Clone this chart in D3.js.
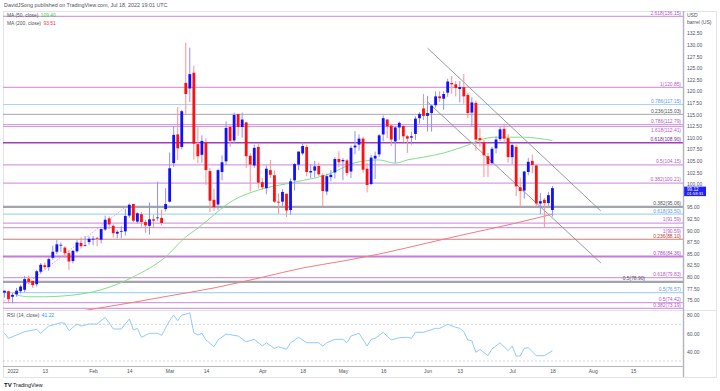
<!DOCTYPE html>
<html>
<head>
<meta charset="utf-8">
<script src="https://cdn.jsdelivr.net/npm/d3@7"></script>
<style>
body { margin: 0; background: #ffffff; }
text { font-family: "Liberation Sans", "DejaVu Sans", sans-serif; }
</style>
</head>
<body>
<script>
//WTI daily candles, Dec 30 2021 - Jul 18 2022 (trading days only)
var dates = ["2021-12-30","2021-12-31",
 "2022-01-03","2022-01-04","2022-01-05","2022-01-06","2022-01-07","2022-01-10","2022-01-11","2022-01-12","2022-01-13","2022-01-14",
 "2022-01-18","2022-01-19","2022-01-20","2022-01-21","2022-01-24","2022-01-25","2022-01-26","2022-01-27","2022-01-28","2022-01-31",
 "2022-02-01","2022-02-02","2022-02-03","2022-02-04","2022-02-07","2022-02-08","2022-02-09","2022-02-10","2022-02-11","2022-02-14",
 "2022-02-15","2022-02-16","2022-02-17","2022-02-18","2022-02-22","2022-02-23","2022-02-24","2022-02-25","2022-02-28",
 "2022-03-01","2022-03-02","2022-03-03","2022-03-04","2022-03-07","2022-03-08","2022-03-09","2022-03-10","2022-03-11","2022-03-14",
 "2022-03-15","2022-03-16","2022-03-17","2022-03-18","2022-03-21","2022-03-22","2022-03-23","2022-03-24","2022-03-25","2022-03-28",
 "2022-03-29","2022-03-30","2022-03-31",
 "2022-04-01","2022-04-04","2022-04-05","2022-04-06","2022-04-07","2022-04-08","2022-04-11","2022-04-12","2022-04-13","2022-04-14",
 "2022-04-18","2022-04-19","2022-04-20","2022-04-21","2022-04-22","2022-04-25","2022-04-26","2022-04-27","2022-04-28","2022-04-29",
 "2022-05-02","2022-05-03","2022-05-04","2022-05-05","2022-05-06","2022-05-09","2022-05-10","2022-05-11","2022-05-12","2022-05-13",
 "2022-05-16","2022-05-17","2022-05-18","2022-05-19","2022-05-20","2022-05-23","2022-05-24","2022-05-25","2022-05-26","2022-05-27",
 "2022-05-31",
 "2022-06-01","2022-06-02","2022-06-03","2022-06-06","2022-06-07","2022-06-08","2022-06-09","2022-06-10","2022-06-13","2022-06-14",
 "2022-06-15","2022-06-16","2022-06-17","2022-06-21","2022-06-22","2022-06-23","2022-06-24","2022-06-27","2022-06-28","2022-06-29",
 "2022-06-30",
 "2022-07-01","2022-07-05","2022-07-06","2022-07-07","2022-07-08","2022-07-11","2022-07-12","2022-07-13","2022-07-14","2022-07-15",
 "2022-07-18"];

var opens = [76.6,76.9,
 75.7,76.2,76.9,77.2,79.6,79.1,78.4,81.1,82.5,82.1,
 84.1,85.4,86.8,86.3,85.1,83.4,85.5,87.3,86.7,87.5,
 88.2,88.4,88.0,90.2,92.6,91.0,89.3,89.9,89.8,93.2,
 95.7,91.9,93.5,91.8,91.0,92.4,92.8,92.7,94.6,
 96.2,104.5,110.7,108.0,121.8,120.6,124.0,108.6,106.3,109.0,
 102.8,96.6,95.6,102.6,104.9,112.3,109.4,115.1,112.3,113.3,
 106.1,104.0,108.0,
 100.4,99.1,103.0,101.9,96.2,96.2,97.9,94.4,100.8,104.2,
 106.6,108.0,102.5,102.9,103.9,101.9,98.4,101.5,102.5,105.4,
 104.9,105.1,102.7,107.9,108.5,109.8,103.3,100.0,105.5,106.4,
 110.7,113.9,112.6,109.2,112.2,112.5,110.3,110.0,110.8,114.2,
 116.3,
 114.7,115.3,117.0,118.9,118.4,119.7,121.8,121.5,120.5,120.9,
 119.2,115.4,117.5,109.9,109.0,106.0,104.5,107.7,109.7,111.9,
 109.9,
 105.8,108.0,99.3,98.6,102.6,105.0,104.0,95.8,96.6,95.9,
 94.4];
var highs = [77.0,77.0,
 76.5,77.6,78.2,80.2,80.3,79.2,81.5,83.0,83.1,84.2,
 86.7,87.9,87.4,86.6,85.7,85.8,88.0,88.5,88.8,88.7,
 88.8,88.6,90.4,93.2,93.0,91.3,90.1,90.9,94.7,95.8,
 95.7,93.9,94.0,92.3,96.0,93.3,100.5,94.5,99.1,
 106.8,112.5,116.6,116.0,130.5,129.4,125.5,112.5,110.5,109.9,
 103.5,99.0,103.3,106.2,113.5,112.9,115.4,115.1,115.4,113.4,
 106.7,108.5,108.6,
 101.3,104.0,105.2,102.9,98.0,98.9,98.0,101.2,104.5,107.0,
 109.0,108.5,104.3,105.0,104.6,102.3,102.3,103.0,105.8,107.1,
 105.6,105.4,108.3,111.4,110.7,110.2,104.5,106.3,107.0,110.8,
 114.8,114.0,113.0,112.5,113.5,112.8,110.6,111.3,114.6,115.5,
 119.4,
 119.0,117.1,120.0,120.0,120.0,122.7,123.3,122.2,122.2,123.7,
 119.7,118.7,118.0,112.0,109.5,106.7,108.0,110.3,112.3,113.0,
 110.8,
 109.0,108.5,101.4,102.8,105.6,106.3,104.3,98.1,97.0,98.3,
 99.6];
var lows = [75.5,74.3,
 74.3,75.7,76.4,76.7,78.4,77.6,77.9,80.7,81.6,81.3,
 83.7,84.9,85.4,84.1,81.5,82.9,85.2,86.1,86.6,86.9,
 86.8,86.6,87.2,89.9,90.3,88.5,88.3,88.3,88.9,92.7,
 91.8,91.5,90.8,89.5,89.1,90.6,92.1,91.1,94.1,
 96.0,103.7,105.2,107.5,114.9,117.7,105.3,104.5,104.6,99.8,
 94.0,94.2,94.5,100.8,104.1,108.0,108.8,110.4,110.0,103.5,
 98.4,103.5,99.0,
 98.8,97.8,101.3,95.9,93.6,95.1,92.9,93.4,98.6,103.0,
 106.2,101.7,101.3,101.5,101.7,95.3,97.6,100.6,101.2,103.6,
 100.8,101.7,101.3,106.4,107.2,102.4,98.2,99.7,101.1,105.8,
 109.2,109.9,108.2,104.6,109.5,109.0,106.7,108.5,109.5,113.0,
 113.8,
 111.3,111.3,116.5,117.7,116.0,118.8,119.5,118.9,117.6,117.3,
 114.2,112.4,107.2,108.0,101.5,101.5,104.2,106.6,109.3,108.9,
 104.6,
 104.3,97.4,95.1,96.9,101.9,102.3,95.1,93.5,90.6,95.3,
 93.0];
var closes = [77.0,75.2,
 76.1,77.0,77.9,79.5,78.9,78.2,81.2,82.6,82.1,83.8,
 85.4,87.0,86.9,85.1,83.3,85.6,87.4,86.6,86.8,88.2,
 88.2,88.3,90.3,92.3,91.3,89.4,89.7,89.9,93.1,95.5,
 92.1,93.7,91.8,91.1,92.4,92.1,92.8,91.6,95.7,
 103.4,110.6,107.7,115.7,119.4,123.7,108.7,106.0,109.3,103.0,
 96.4,95.0,103.0,104.7,112.1,109.3,114.9,112.3,113.9,106.0,
 104.2,107.8,100.3,
 99.3,103.3,102.0,96.2,96.0,98.3,94.3,100.6,104.3,107.0,
 108.2,102.6,102.8,103.8,102.1,98.5,101.7,102.0,105.4,104.7,
 105.2,102.4,107.8,108.3,109.8,103.1,99.8,105.7,106.1,110.5,
 114.2,112.4,109.6,112.2,113.2,110.3,109.8,110.3,114.1,115.1,
 114.7,
 115.3,116.9,118.9,118.5,119.4,122.1,121.5,120.7,120.9,118.9,
 115.3,117.6,109.6,109.5,106.2,104.3,107.6,109.6,111.8,109.8,
 105.8,
 108.4,99.5,98.5,102.7,104.8,104.1,95.8,96.3,95.9,97.6,
 99.12];

//moving averages
var ma50Dates = ["2022-01-04","2022-01-07","2022-01-13","2022-01-21","2022-02-03","2022-02-15","2022-02-28","2022-03-07","2022-03-10",
 "2022-03-23","2022-03-31","2022-04-13","2022-04-26","2022-05-06","2022-05-13","2022-05-19","2022-05-24","2022-05-31","2022-06-07",
 "2022-06-13","2022-06-15","2022-06-21","2022-06-27","2022-07-07","2022-07-12","2022-07-18"];
var ma50Values = [76.1,75.7,75.7,75.9,77.2,80.0,84.3,88.6,90.5,96.6,98.7,100.4,102.0,104.8,105.2,104.5,105.2,105.8,106.7,107.8,108.4,
 109.5,110.1,110.1,109.9,109.40];
var ma200Dates = ["2021-12-30","2022-01-31","2022-02-15","2022-03-01","2022-03-16","2022-04-01","2022-04-18","2022-05-02","2022-05-16",
 "2022-06-01","2022-06-13","2022-07-01","2022-07-18"];
var ma200Values = [70.2,72.9,74.5,75.9,77.6,79.9,81.9,83.4,85.1,87.3,88.9,91.4,93.51];

//RSI (14)
var rsiDates = ["2021-12-30","2021-12-31","2022-01-04","2022-01-06","2022-01-11","2022-01-12","2022-01-14","2022-01-18","2022-01-20",
 "2022-01-21","2022-01-24","2022-01-26","2022-01-27","2022-01-31","2022-02-02","2022-02-04","2022-02-08","2022-02-10","2022-02-14",
 "2022-02-15","2022-02-16","2022-02-17","2022-02-22","2022-02-24","2022-02-25","2022-03-01","2022-03-02","2022-03-03","2022-03-04",
 "2022-03-07","2022-03-08","2022-03-09","2022-03-10","2022-03-11","2022-03-14","2022-03-16","2022-03-17","2022-03-21","2022-03-24",
 "2022-03-28","2022-03-30","2022-04-01","2022-04-04","2022-04-06","2022-04-07","2022-04-11","2022-04-12","2022-04-14","2022-04-19",
 "2022-04-22","2022-04-25","2022-04-26","2022-04-28","2022-05-02","2022-05-03","2022-05-04","2022-05-06","2022-05-10","2022-05-11",
 "2022-05-12","2022-05-16","2022-05-18","2022-05-20","2022-05-24","2022-05-25","2022-05-26","2022-05-31","2022-06-03","2022-06-06",
 "2022-06-08","2022-06-10","2022-06-13","2022-06-14","2022-06-15","2022-06-16","2022-06-17","2022-06-21","2022-06-23","2022-06-24",
 "2022-06-28","2022-06-30","2022-07-01","2022-07-05","2022-07-06","2022-07-07","2022-07-08","2022-07-12","2022-07-14","2022-07-18"];
var rsiValues = [60.2,54.7,58.3,61.9,64.5,60.2,68.1,69.2,71.7,71.1,63.0,70.3,68.1,70.3,70.3,77.6,64.9,64.9,75.8,63.8,65.6,55.8,60.2,
 60.2,58.0,74.0,80.1,73.9,80.1,81.0,82.6,60.8,58.3,60.2,53.0,45.6,52.9,59.4,57.2,51.0,53.6,46.3,49.9,43.8,45.6,42.7,49.9,55.8,49.9,
 49.9,46.3,49.9,53.6,53.6,49.9,57.2,60.2,46.3,53.6,54.7,61.3,52.9,55.4,55.8,54.7,61.3,61.3,65.6,65.6,70.0,66.7,65.6,61.9,52.9,52.1,
 39.5,42.7,35.8,43.1,49.9,41.2,46.3,35.4,35.4,43.8,44.5,35.8,35.8,41.22];

//fibonacci levels drawn on the chart
var fibPrices = [136.15,120.85,117.15,115.03,112.79,112.41,108.90,104.15,100.21,95.06,93.50,91.59,90.59,88.10,84.36,79.83,78.90,
 76.57,74.42,73.19];
var fibLabels = ["2.618(136.15)","1(120.85)","0.786(117.15)","0.236(115.03)","0.786(112.79)","1.618(112.41)","0.618(108.90)",
 "0.5(104.15)","0.382(100.21)","0.382(95.06)","0.618(93.50)","1(91.59)","1(90.59)","0.236(88.10)","0.786(84.36)","0.618(79.83)",
 "0.5(78.90)","0.5(76.57)","0.5(74.42)","0.382(73.19)"];
var fibKinds = ["p","p","b","g","p","p","dp","p","p","gt","b","p","p","r","pt","p","gt","b","p","p"];

//trend lines: [start date, start price, end date, end price]
var channelUpper = ["2022-06-01",129.3,"2022-08-03",94.2];
var channelLower = ["2022-06-01",117.7,"2022-08-03",83.0];
var trendDotted = ["2021-12-30",74.8,"2022-02-14",95.7];

//axis labels
var priceTicks = d3.range(75, 133, 2.5);
var rsiTicks = [40, 60, 80];
var dateTickDays = ["2022-01-03","2022-01-13","2022-02-01","2022-02-14","2022-03-01","2022-03-14","2022-04-01","2022-04-18",
 "2022-05-02","2022-05-16","2022-06-01","2022-06-13","2022-07-01","2022-07-18","2022-08-01","2022-08-15"];
var dateTickLabels = ["2022","13","Feb","14","Mar","14","Apr","18","May","16","Jun","13","Jul","18","Aug","15"];

//SVG dimension variables
var w = 720, h = 391;
var left = 3, right = 683, mainTop = 11, mainBottom = 310, rsiBottom = 366;

//trading-day index of a date; dates after the data are counted on weekdays
var dayIndex = {};
dates.forEach(function(d, i) { dayIndex[d] = i; });
function idx(ds) {
    if (dayIndex[ds] !== undefined) return dayIndex[ds];
    var last = new Date(dates[dates.length - 1] + "T00:00:00Z"), target = new Date(ds + "T00:00:00Z");
    var n = dates.length - 1;
    while (last < target) {
        last.setUTCDate(last.getUTCDate() + 1);
        var wd = last.getUTCDay();
        if (wd !== 0 && wd !== 6) n++;
    }
    return n;
}

var x = d3.scaleLinear().domain([-0.36, 168.4]).range([left, right]);
var y = d3.scaleLinear().domain([75, 132.5]).range([300, 33.3]);
var yRsi = d3.scaleLinear().domain([30, 70]).range([361, 324.3]);

var svg = d3.select("body")
    .append("svg")
    .attr("width", w)
    .attr("height", h)
    .style("display", "block")
    .style("background", "#ffffff");

var defs = svg.append("defs");
defs.append("clipPath").attr("id", "mainClip").append("rect")
    .attr("x", left).attr("y", mainTop).attr("width", right - left).attr("height", mainBottom - mainTop);
defs.append("clipPath").attr("id", "rsiClip").append("rect")
    .attr("x", left).attr("y", mainBottom + 1).attr("width", right - left).attr("height", rsiBottom - mainBottom - 1);

//frame
svg.append("rect")
    .attr("x", left + 0.5).attr("y", mainTop + 0.5)
    .attr("width", 716 - left).attr("height", 377 - mainTop)
    .attr("fill", "none").attr("stroke", "#e0e3eb");

//publisher line
svg.append("text").attr("x", 4).attr("y", 7).attr("font-size", 5.4).attr("fill", "#50535e")
    .text("DavidJSong published on TradingView.com, Jul 18, 2022 19:01 UTC");

var main = svg.append("g").attr("clip-path", "url(#mainClip)");

//fibonacci levels
var fibStyle = {
    p:  { stroke: "#d69ee2", width: 1.2, text: "#b05cc4" },
    pt: { stroke: "#c77ad8", width: 2.0, text: "#a64cbf" },
    dp: { stroke: "#a040b8", width: 1.3, text: "#7b1fa2" },
    b:  { stroke: "#a9d3f7", width: 1.2, text: "#5b9de0" },
    g:  { stroke: "#8d8f99", width: 0.8, text: "#50535e" },
    gt: { stroke: "#a3a5ad", width: 2.2, text: "#50535e" },
    r:  { stroke: "#cf7a7a", width: 1.0, text: "#c0392b" }
};

main.selectAll(".fib")
    .data(fibPrices)
    .enter()
    .append("line")
    .attr("class", "fib")
    .attr("x1", left).attr("x2", right)
    .attr("y1", function(d) { return y(d); })
    .attr("y2", function(d) { return y(d); })
    .attr("stroke", function(d, i) { return fibStyle[fibKinds[i]].stroke; })
    .attr("stroke-width", function(d, i) { return fibStyle[fibKinds[i]].width; });

//labels sit above their line; a label crowded by the level above goes under its line,
//or, when there is no room under it either, a little to the left
function labelPlace(d, i) {
    var gapAbove = i > 0 ? y(d) - y(fibPrices[i - 1]) : 99;
    var gapBelow = i < fibPrices.length - 1 ? y(fibPrices[i + 1]) - y(d) : 99;
    if (gapAbove >= 5.5) return { dx: 0, y: y(d) - 1.6 };
    if (gapBelow >= 11) return { dx: 0, y: y(d) + 5.2 };
    return { dx: -36, y: y(d) - 1.6 };
}

main.selectAll(".fibLabel")
    .data(fibPrices)
    .enter()
    .append("text")
    .attr("class", "fibLabel")
    .attr("x", function(d, i) { return right - 2 + labelPlace(d, i).dx; })
    .attr("y", function(d, i) { return labelPlace(d, i).y; })
    .attr("text-anchor", "end")
    .attr("font-size", 4.9)
    .attr("fill", function(d, i) { return fibStyle[fibKinds[i]].text; })
    .text(function(d, i) { return fibLabels[i]; });

//dotted trend line and the falling channel
main.append("line")
    .attr("x1", x(idx(trendDotted[0]))).attr("y1", y(trendDotted[1]))
    .attr("x2", x(idx(trendDotted[2]))).attr("y2", y(trendDotted[3]))
    .attr("stroke", "#d69ee2").attr("stroke-width", 1).attr("stroke-dasharray", "1.5,1.5");

[channelUpper, channelLower].forEach(function(c) {
    main.append("line")
        .attr("x1", x(idx(c[0]))).attr("y1", y(c[1]))
        .attr("x2", x(idx(c[2]))).attr("y2", y(c[3]))
        .attr("stroke", "#8a8d96").attr("stroke-width", 0.9);
});

//moving averages
var maLine = d3.line()
    .x(function(d) { return x(idx(d[0])); })
    .y(function(d) { return y(d[1]); })
    .curve(d3.curveMonotoneX);

main.append("path")
    .datum(d3.zip(ma200Dates, ma200Values))
    .attr("d", maLine)
    .attr("fill", "none").attr("stroke", "#f47c7c").attr("stroke-width", 1);

main.append("path")
    .datum(d3.zip(ma50Dates, ma50Values))
    .attr("d", maLine)
    .attr("fill", "none").attr("stroke", "#82e082").attr("stroke-width", 1);

//candles
var candles = main.selectAll(".candle")
    .data(dates)
    .enter()
    .append("g")
    .attr("class", "candle");

candles.append("line")
    .attr("x1", function(d, i) { return x(i); })
    .attr("x2", function(d, i) { return x(i); })
    .attr("y1", function(d, i) { return y(highs[i]); })
    .attr("y2", function(d, i) { return y(lows[i]); })
    .attr("stroke", function(d, i) { return closes[i] >= opens[i] ? "#8f8fff" : "#ff8f8f"; })
    .attr("stroke-width", 1);

candles.append("rect")
    .attr("x", function(d, i) { return x(i) - 1.4; })
    .attr("width", 2.8)
    .attr("y", function(d, i) { return y(Math.max(opens[i], closes[i])); })
    .attr("height", function(d, i) { return Math.max(0.8, Math.abs(y(opens[i]) - y(closes[i]))); })
    .attr("fill", function(d, i) { return closes[i] >= opens[i] ? "#1010ff" : "#ff1010"; });

//legend: name then value
function legendRow(yPos, name, value, color) {
    var t = svg.append("text").attr("x", 7).attr("y", yPos).attr("font-size", 4.9).attr("fill", "#50535e");
    t.append("tspan").text(name);
    t.append("tspan").attr("dx", 2.5).attr("fill", color).text(value);
}
legendRow(17, "MA (50, close)", "109.40", "#3ccf3c");
legendRow(24.5, "MA (200, close)", "93.51", "#f23645");

//pane separator
svg.append("line").attr("x1", left).attr("x2", 716).attr("y1", mainBottom + 0.5).attr("y2", mainBottom + 0.5)
    .attr("stroke", "#e0e3eb");

//RSI pane
var rsiPane = svg.append("g").attr("clip-path", "url(#rsiClip)");
[70, 30].forEach(function(v) {
    rsiPane.append("line")
        .attr("x1", left).attr("x2", right)
        .attr("y1", yRsi(v)).attr("y2", yRsi(v))
        .attr("stroke", "#c8cad0").attr("stroke-width", 0.8).attr("stroke-dasharray", "2,2");
});
rsiPane.append("path")
    .datum(d3.zip(rsiDates, rsiValues))
    .attr("d", d3.line()
        .x(function(d) { return x(idx(d[0])); })
        .y(function(d) { return yRsi(d[1]); }))
    .attr("fill", "none").attr("stroke", "#90cbf9").attr("stroke-width", 1);

legendRow(316.5, "RSI (14, close)", "41.22", "#2196f3");

//price axis; labels hidden behind the last-price tag are left out
var tagTop = y(closes[closes.length - 1]) - 1.5;
var priceAxis = svg.append("g")
    .attr("transform", "translate(" + (right + 3) + ",0)")
    .call(d3.axisRight(y)
        .tickValues(priceTicks.filter(function(p) { return y(p) < tagTop - 2 || y(p) > tagTop + 12; }))
        .tickFormat(d3.format(".2f")).tickSize(0));
priceAxis.select(".domain").remove();
priceAxis.selectAll("text").attr("font-size", 5).attr("fill", "#50535e").attr("dx", -2);

svg.append("text").attr("x", 687).attr("y", 16.5).attr("font-size", 5).attr("fill", "#50535e").text("USD");
svg.append("text").attr("x", 687).attr("y", 23.5).attr("font-size", 5).attr("fill", "#50535e").text("barrel (US)");

var rsiAxis = svg.append("g")
    .attr("transform", "translate(" + (right + 3) + ",0)")
    .call(d3.axisRight(yRsi).tickValues(rsiTicks).tickFormat(d3.format(".2f")).tickSize(0));
rsiAxis.select(".domain").remove();
rsiAxis.selectAll("text").attr("font-size", 5).attr("fill", "#50535e").attr("dx", -2);

//last price tag
var tag = svg.append("g").attr("transform", "translate(684," + tagTop + ")");
tag.append("rect").attr("width", 22).attr("height", 9.5).attr("fill", "#1f1fff");
tag.append("text").attr("x", 3).attr("y", 4.2).attr("font-size", 4.6).attr("fill", "#ffffff").text("99.12");
tag.append("text").attr("x", 3).attr("y", 8.6).attr("font-size", 4.2).attr("fill", "#ffffff").text("01:58:31");

//axis lines
svg.append("line").attr("x1", right + 0.5).attr("x2", right + 0.5).attr("y1", mainTop).attr("y2", 377)
    .attr("stroke", "#b2b5be").attr("stroke-width", 1.4);
svg.append("line").attr("x1", left).attr("x2", right).attr("y1", rsiBottom + 0.5).attr("y2", rsiBottom + 0.5)
    .attr("stroke", "#b2b5be").attr("stroke-width", 1);

//time axis
var timeAxis = svg.append("g")
    .attr("transform", "translate(0," + (rsiBottom + 1) + ")")
    .call(d3.axisBottom(x)
        .tickValues(dateTickDays.map(idx))
        .tickFormat(function(d, i) { return dateTickLabels[i]; })
        .tickSize(0));
timeAxis.select(".domain").remove();
timeAxis.selectAll("text").attr("font-size", 5).attr("fill", "#50535e").attr("dy", "0.5em");

//TradingView mark
svg.append("text").attr("x", 4).attr("y", 387).attr("font-size", 6).attr("font-weight", "bold").attr("fill", "#131722").text("TV");
svg.append("text").attr("x", 13).attr("y", 387).attr("font-size", 5.4).attr("fill", "#131722").text("TradingView");
</script>
</body>
</html>
